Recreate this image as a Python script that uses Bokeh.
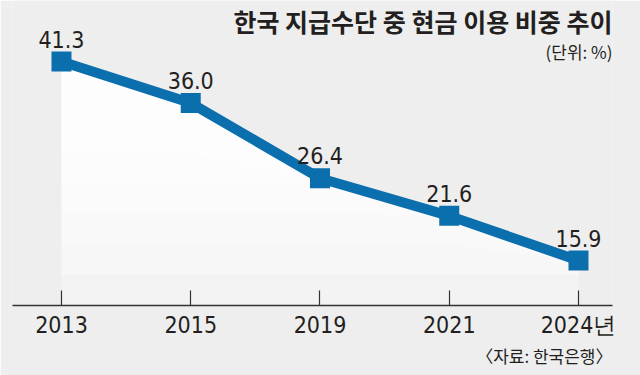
import numpy as np
from bokeh.plotting import figure
from bokeh.models import Range1d, LinearAxis, FixedTicker, Label, ColumnDataSource, Title
from bokeh.core.properties import value
from bokeh.embed import file_html
from bokeh.resources import INLINE

# ---- data ----
years = ["2013", "2015", "2019", "2021", "2024년"]
share = [41.3, 36.0, 26.4, 21.6, 15.9]
value_labels = ["41.3", "36.0", "26.4", "21.6", "15.9"]
title_text = "한국 지급수단 중 현금 이용 비중 추이"
unit_text = "(단위: %)"
source_text = "〈자료: 한국은행〉"

# ---- styles ----
BG = "#eeeeee"
BLUE = "#0b6fae"
DARK = "#231f20"
NUM_FONT = "Liberation Sans Narrow, DejaVu Sans Condensed, sans-serif"
KR_FONT = "Noto Sans CJK KR"

idx = list(range(len(years)))
ymin, ymax = 10.16, 49.09

p = figure(width=640, height=375, output_backend="svg", toolbar_location=None,
           x_range=Range1d(-0.379, 4.263), y_range=Range1d(ymin, ymax),
           x_axis_type=None, y_axis_type=None,
           min_border_left=12, min_border_right=28, min_border_top=0, min_border_bottom=70)
p.background_fill_color = BG
p.border_fill_color = BG
p.outline_line_color = None
p.xgrid.visible = False
p.ygrid.visible = False

# soft white gradient under the line (stacked translucent bands)
line_arr = np.array(share)
for lvl in np.linspace(ymin, max(share), 9)[:-1]:
    p.varea(x=idx, y1=np.minimum(lvl, line_arr), y2=line_arr,
            fill_color="white", fill_alpha=0.32)

src = ColumnDataSource(dict(x=idx, y=share, lab=value_labels))
p.line("x", "y", source=src, line_color=BLUE, line_width=10)
p.scatter("x", "y", source=src, marker="square", size=20,
          fill_color=BLUE, line_color=None)
p.text("x", "y", text="lab", source=src, text_align="center", text_baseline="bottom",
       y_offset=-14, text_font=value(NUM_FONT), text_font_size="23px", text_color=DARK)

ax = LinearAxis(ticker=FixedTicker(ticks=idx),
                major_label_overrides={i: y for i, y in zip(idx, years)})
ax.axis_line_color = "#333333"
ax.axis_line_width = 1.3
ax.major_tick_in = 15
ax.major_tick_out = 0
ax.major_tick_line_color = "#333333"
ax.major_tick_line_width = 1.2
ax.minor_tick_line_color = None
ax.major_label_standoff = 6
ax.major_label_text_font = NUM_FONT
ax.major_label_text_font_size = "23px"
ax.major_label_text_color = DARK
p.add_layout(ax, "below")

src_title = Title(text=source_text, align="right", text_font=KR_FONT,
                  text_font_style="normal", text_font_size="17px", text_color=DARK,
                  standoff=0)
p.add_layout(src_title, "below")

p.add_layout(Label(x=600, y=285, x_units="screen", y_units="screen", text=title_text,
                   text_align="right", text_baseline="alphabetic", text_font=KR_FONT,
                   text_font_style="bold", text_font_size="25px", text_color=DARK))
p.add_layout(Label(x=600, y=254, x_units="screen", y_units="screen", text=unit_text,
                   text_align="right", text_baseline="alphabetic", text_font=KR_FONT,
                   text_font_size="17px", text_color=DARK))

open("out.html", "w").write(file_html(p, INLINE))
